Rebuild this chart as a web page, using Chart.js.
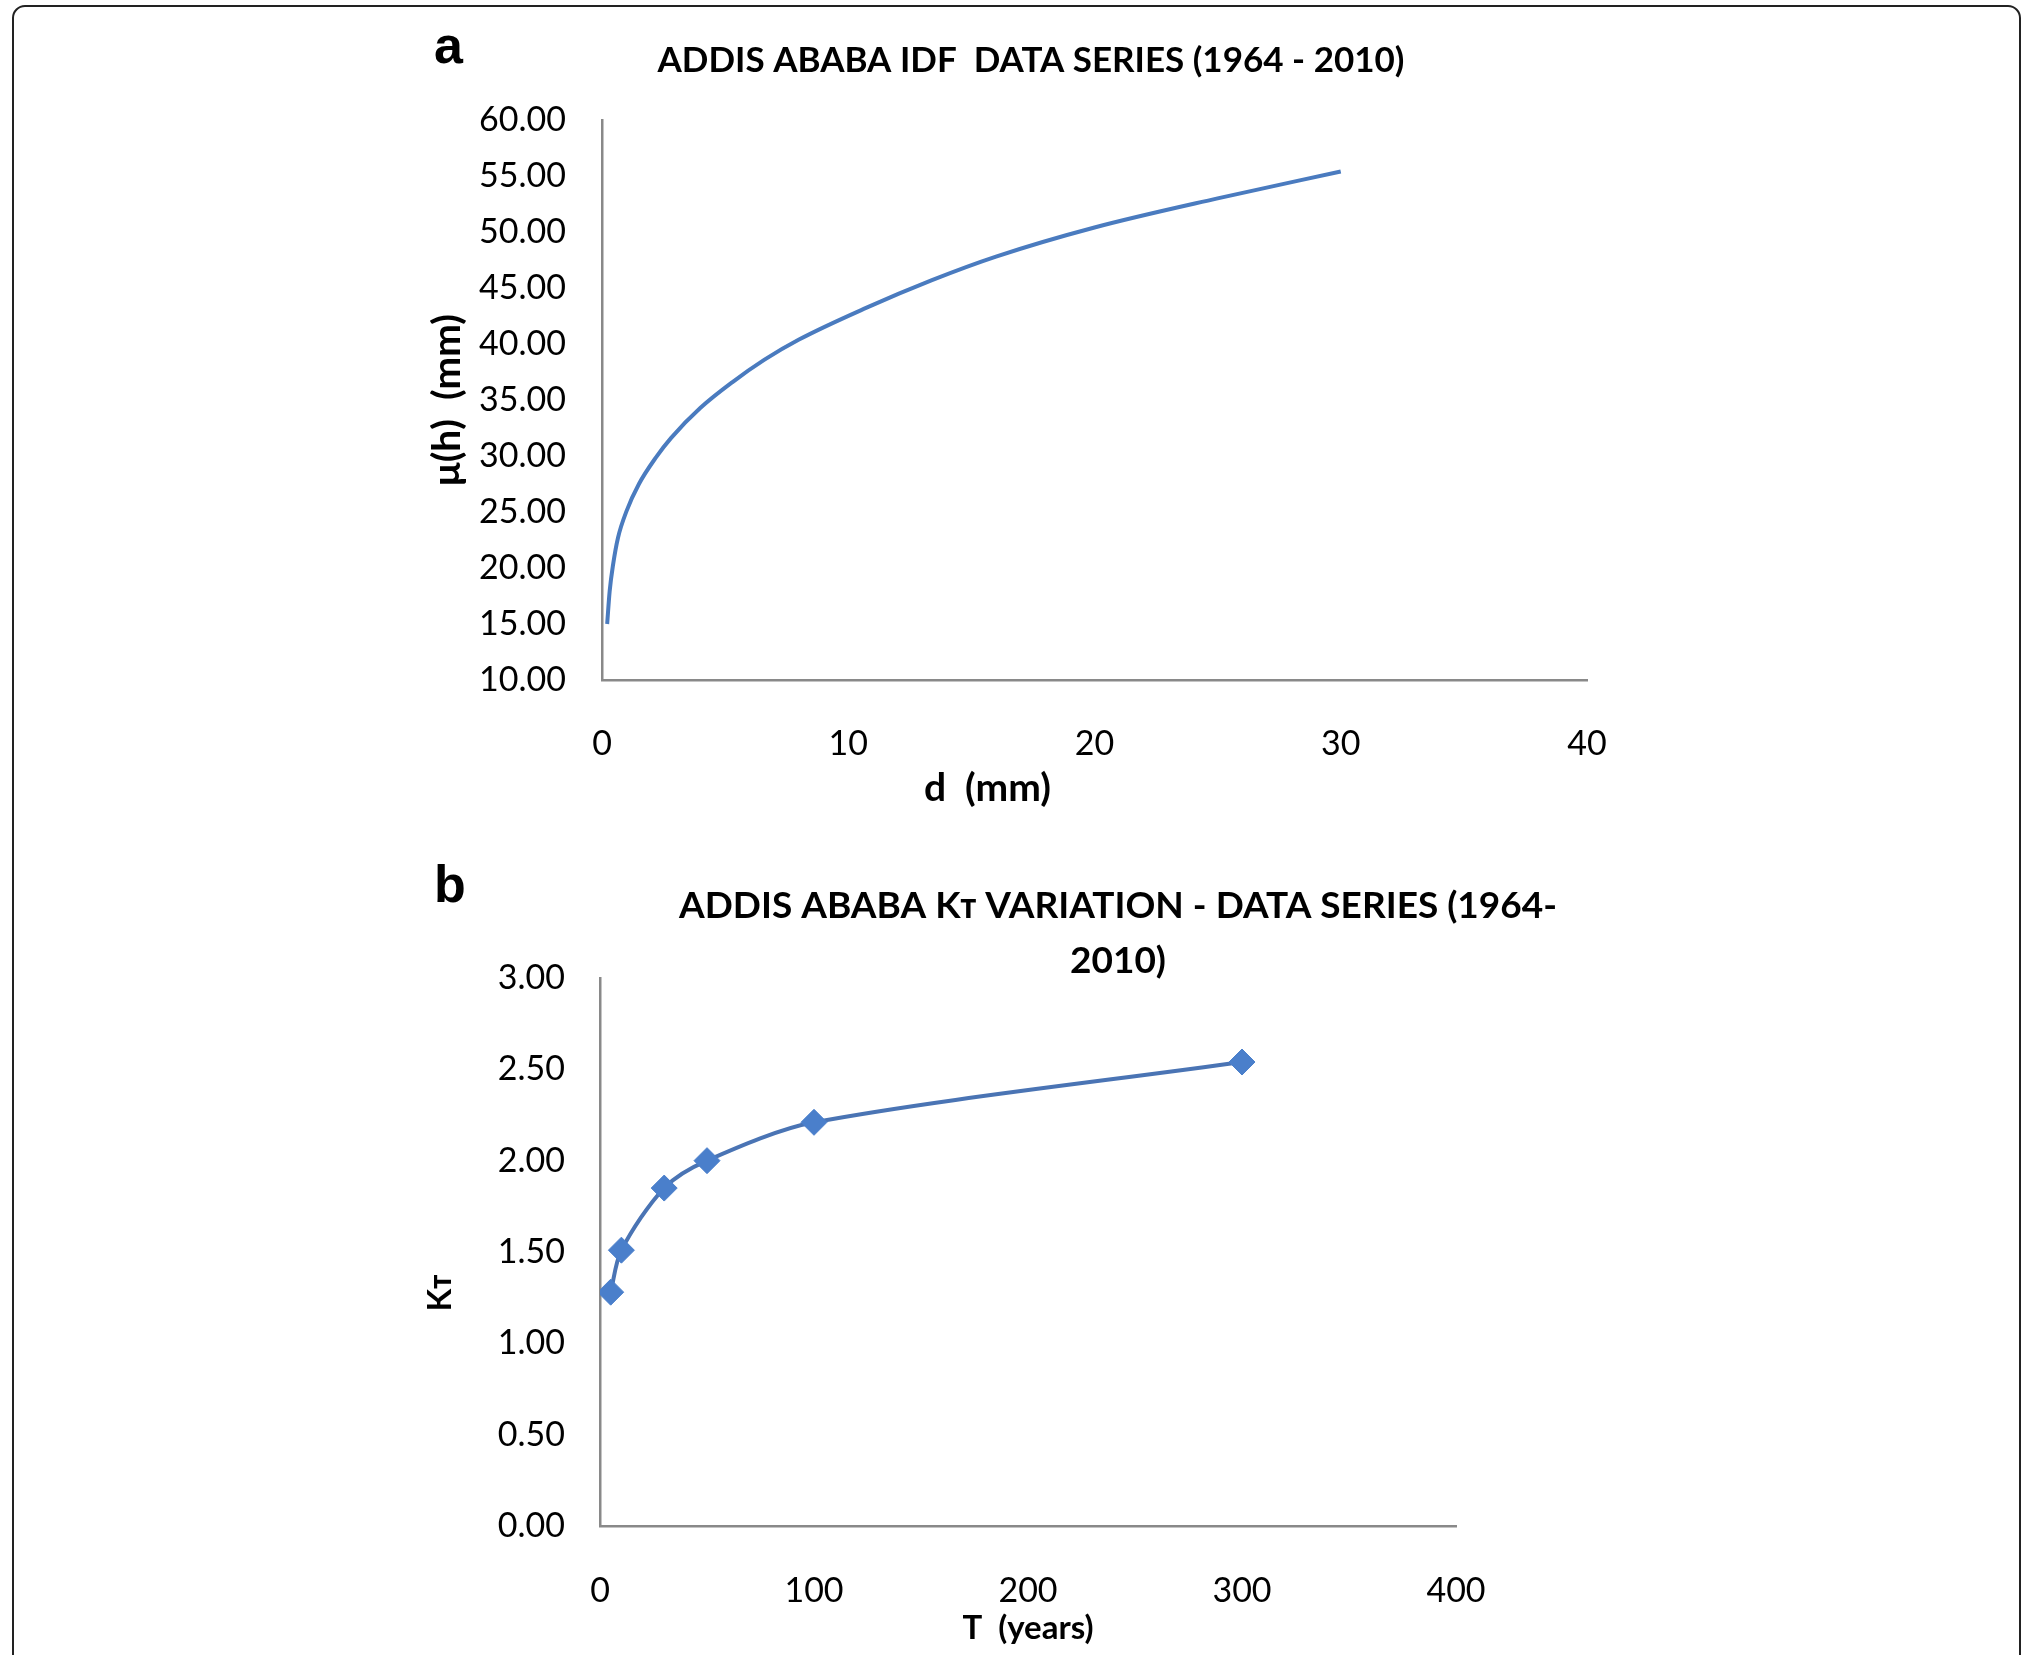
<!DOCTYPE html>
<html>
<head>
<meta charset="utf-8">
<script src="https://cdn.jsdelivr.net/npm/chart.js@4.4.1/dist/chart.umd.min.js"></script>
<style>
  html, body { margin: 0; padding: 0; background: #fff; overflow: hidden; width: 2039px; height: 1655px; }
  #frame { position: absolute; left: 12px; top: 5px; width: 2009px; height: 1720px; border: 2px solid #222; border-radius: 13px; box-sizing: border-box; }
  .panel { position: absolute; font-family: "Liberation Sans", Arial, sans-serif; font-weight: bold; font-size: 52px; line-height: 52px; color: #000; }
  #cA { position: absolute; left: 0; top: 0; }
  #cB { position: absolute; left: 0; top: 830px; }
</style>
</head>
<body>
<div id="frame"></div>
<canvas id="cA" width="2062" height="830" style="width:2062px;height:830px"></canvas>
<canvas id="cB" width="2236" height="825" style="width:2236px;height:825px"></canvas>
<div class="panel" style="left:434px;top:19px">a</div>
<div class="panel" style="left:434px;top:858px">b</div>
<script>
// panel a : IDF mean depth vs duration
const durations = [0.21, 0.31, 0.45, 0.65, 1.0, 1.5, 2.2, 2.8, 4, 5.3, 6.6, 8, 10.7, 13.4, 16, 20, 25, 30];
const meanDepth = [15.0, 17.9, 20.3, 22.7, 25.1, 27.5, 29.9, 31.6, 34.3, 36.6, 38.6, 40.4, 43.2, 45.7, 47.8, 50.4, 53.0, 55.4];

// panel b : frequency factor vs return period
const returnPeriods = [5, 10, 30, 50, 100, 300];
const kT = [1.28, 1.51, 1.85, 2.00, 2.21, 2.54];

const titleA = 'ADDIS ABABA IDF  DATA SERIES (1964 - 2010)';
const titleB = ['ADDIS ABABA K\u1D1B VARIATION - DATA SERIES (1964-', '2010)'];

const tickFont = { family: 'Lato', size: 34 };
const axisTitleFontA = { family: 'Lato', size: 39, weight: 'bold', lineHeight: 1.2 };
const axisTitleFontB = { family: 'Lato', size: 33, weight: 'bold', lineHeight: 1.2 };
const axisColor = '#898989';

function points(xs, ys) {
  return xs.map((x, i) => ({ x: x, y: ys[i] }));
}

// invisible right box, only there so the title centres like the original
function spacer(w) {
  return {
    position: 'right', display: true,
    grid: { display: false }, border: { display: false }, ticks: { display: false },
    afterFit(s) { s.width = w; }
  };
}

try {
  new Chart(document.getElementById('cA'), {
    type: 'scatter',
    data: {
      datasets: [{
        data: points(durations, meanDepth),
        showLine: true,
        borderColor: '#4A7BBF',
        borderWidth: 4,
        pointRadius: 0,
        cubicInterpolationMode: 'monotone'
      }]
    },
    options: {
      responsive: false,
      animation: false,
      devicePixelRatio: 1,
      plugins: {
        legend: { display: false },
        tooltip: { enabled: false },
        title: {
          display: true, text: titleA, color: '#000',
          font: { family: 'Lato', size: 35, weight: 'bold', lineHeight: 1.2 },
          padding: { top: 40, bottom: 38 }
        }
      },
      scales: {
        x: {
          type: 'linear', min: 0, max: 40,
          ticks: { stepSize: 10, font: tickFont, color: '#000', padding: 36 },
          grid: { display: false },
          border: { color: axisColor, width: 2.5 },
          title: { display: true, text: 'd  (mm)' + '\u2003'.repeat(7) + '\u00a0', font: axisTitleFontA, color: '#000', padding: { top: 0, bottom: 18 } },
          afterFit(s) { s.height = 150; }
        },
        y: {
          min: 10, max: 60,
          ticks: { stepSize: 5, font: tickFont, color: '#000', padding: 28, callback: v => v.toFixed(2) },
          grid: { display: false },
          border: { color: axisColor, width: 2.5 },
          title: { display: true, text: '\u03BC(h)  (mm)', font: axisTitleFontA, color: '#000', padding: { top: 424, bottom: 0 } },
          afterFit(s) { s.width = 602; }
        },
        pad: spacer(475)
      }
    }
  });
} catch (error) {
  console.log(error);
}

try {
  new Chart(document.getElementById('cB'), {
    type: 'scatter',
    data: {
      datasets: [{
        data: points(returnPeriods, kT),
        showLine: true,
        borderColor: '#4A74B4',
        borderWidth: 4,
        tension: 0.3,
        pointStyle: 'rectRot',
        pointRadius: 13,
        pointBackgroundColor: '#4A7FCB',
        pointBorderColor: '#4A7FCB',
        pointBorderWidth: 1
      }]
    },
    options: {
      responsive: false,
      animation: false,
      devicePixelRatio: 1,
      plugins: {
        legend: { display: false },
        tooltip: { enabled: false },
        title: {
          display: true, text: titleB, color: '#000',
          font: { family: 'Lato', size: 37, weight: 'bold', lineHeight: 1.5 },
          padding: { top: 48, bottom: -11 }
        }
      },
      scales: {
        x: {
          type: 'linear', min: 0, max: 400,
          ticks: { stepSize: 100, font: tickFont, color: '#000', padding: 37 },
          grid: { display: false },
          border: { color: axisColor, width: 2.5 },
          title: { display: true, text: 'T  (years)', font: axisTitleFontB, color: '#000', padding: { top: 0, bottom: 7 } },
          afterFit(s) { s.height = 129; }
        },
        y: {
          min: 0, max: 3,
          ticks: { stepSize: 0.5, font: tickFont, color: '#000', padding: 27, callback: v => v.toFixed(2) },
          grid: { display: false },
          border: { color: axisColor, width: 2.5 },
          title: { display: true, text: 'K\u1D1B' + '\u2003'.repeat(3) + '\u00a0', font: axisTitleFontB, color: '#000', padding: { top: 421, bottom: 0 } },
          afterFit(s) { s.width = 600; }
        },
        pad: spacer(780)
      }
    }
  });
} catch (error) {
  console.log(error);
}
</script>
</body>
</html>
